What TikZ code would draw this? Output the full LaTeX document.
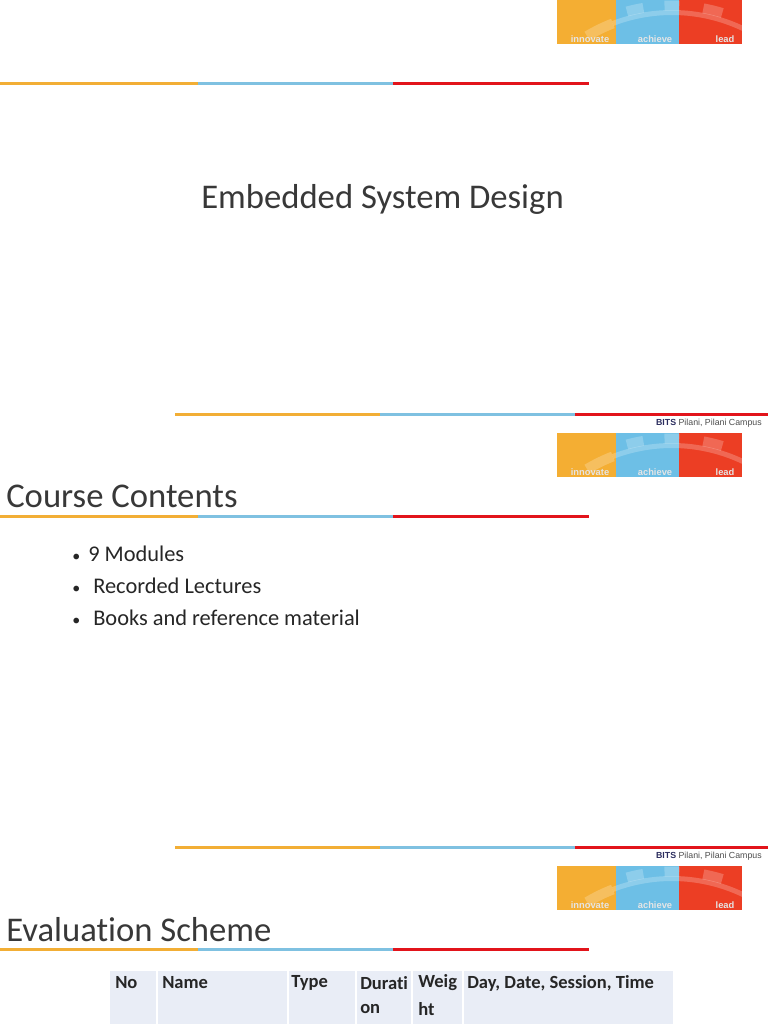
\documentclass[tikz,border=0pt]{standalone}
\usepackage{fontspec}
\setmainfont[Ligatures=NoCommon]{Carlito}
\newfontfamily\logofont{Liberation Sans}
\definecolor{bitsorange}{HTML}{F4AE33}
\definecolor{bitsblue}{HTML}{6DBFE6}
\definecolor{bitsred}{HTML}{EC3E24}
\definecolor{ruleorange}{HTML}{F2AE35}
\definecolor{ruleblue}{HTML}{7FC1E1}
\definecolor{rulered}{HTML}{E2141B}
\definecolor{cellblue}{HTML}{E9EDF6}
\definecolor{bitsnavy}{HTML}{2B2D5E}
\tikzset{
  rule/.style={line width=2.25pt},
  gearband/.style={white,opacity=0.22,line width=3.75pt},
  geartooth/.style={white,opacity=0.22,line width=7.5pt},
  logotext/.style={text=white!90!black,font=\logofont\fontsize{7}{8}\selectfont\bfseries,inner sep=0pt},
  footer/.style={anchor=east,inner sep=0pt,text=black!70,font=\logofont\fontsize{6.6}{8}\selectfont},
  heading/.style={anchor=west,inner sep=0pt,text=black!78,font=\fontsize{26}{30}\selectfont},
  bullet/.style={anchor=west,inner sep=0pt,text=black!85,font=\fontsize{16.8}{20}\selectfont},
  cell/.style={fill=cellblue},
  celltext/.style={anchor=west,inner sep=0pt,text=black!85,font=\fontsize{13.9}{16}\selectfont\bfseries}
}
\newcommand{\bulletmark}[1]{\makebox[#1][l]{\fontsize{12}{12}\selectfont•}}
\begin{document}
\begin{tikzpicture}[x=0.75pt,y=0.75pt,yscale=-1,xscale=1]
\useasboundingbox (0,0) rectangle (768,1024);

%Logos
\foreach \logoy/\n in {0/a,433/b,866/c}{
  \begin{scope}[shift={(0,\logoy)}]
    \fill[bitsorange] (557,0) rectangle (616,44);
    \fill[bitsblue] (616,0) rectangle (679,44);
    \fill[bitsred] (679,0) rectangle (742,44);
    \begin{scope}
      \clip (557,0) rectangle (742,44);
      \draw[gearband] (672,177.5) ++(249:165) arc[start angle=249,end angle=302,radius=165];
      \draw[geartooth] (672,177.5) ++(239:165) arc[start angle=239,end angle=249,radius=165];
      \draw[geartooth] (672,177.5) ++(254.8:172) arc[start angle=254.8,end angle=260.4,radius=172];
      \draw[geartooth] (672,177.5) ++(267.5:172) arc[start angle=267.5,end angle=272.5,radius=172];
      \draw[geartooth] (672,177.5) ++(280.5:172) arc[start angle=280.5,end angle=287,radius=172];
    \end{scope}
    \draw (590,39.5) node (innovate\n) [logotext] {innovate};
    \draw (655,39.5) node (achieve\n) [logotext] {achieve};
    \draw (725,39.5) node (lead\n) [logotext] {lead};
  \end{scope}
}

%Straight Lines under the logos
\foreach \ruley in {83.5,516.5,949.5}{
  \draw[rule,ruleorange] (0,\ruley) -- (198,\ruley);
  \draw[rule,ruleblue] (198,\ruley) -- (393,\ruley);
  \draw[rule,rulered] (393,\ruley) -- (589,\ruley);
}

%Straight Lines at the foot of the slides
\foreach \ruley/\n in {414/a,847/b}{
  \draw[rule,ruleorange] (175,\ruley) -- (380,\ruley);
  \draw[rule,ruleblue] (380,\ruley) -- (575,\ruley);
  \draw[rule,rulered] (575,\ruley) -- (768,\ruley);
  \draw (762,\ruley+9.5) node (footer\n) [footer] {{\color{bitsnavy}\bfseries BITS} Pilani, Pilani Campus};
}

% Text Node
\draw (201,199.5) node (title) [heading] {Embedded System Design};
% Text Node
\draw (6,496.5) node (contents) [heading] {Course Contents};
% Text Node
\draw (6,929.5) node (evaluation) [heading] {Evaluation Scheme};
% Text Node
\draw (72,553.5) node (modules) [bullet] {\bulletmark{12pt}9 Modules};
% Text Node
\draw (72,586) node (lectures) [bullet] {\bulletmark{15.75pt}Recorded Lectures};
% Text Node
\draw (72,618) node (books) [bullet] {\bulletmark{15.75pt}Books and reference material};

%Table cells
\fill[cell] (110,971) rectangle (156,1024);
\fill[cell] (158,971) rectangle (287,1024);
\fill[cell] (289,971) rectangle (355,1024);
\fill[cell] (357,971) rectangle (411,1024);
\fill[cell] (413,971) rectangle (462,1024);
\fill[cell] (464,971) rectangle (673,1024);

% Text Node
\draw (115,983) node (no) [celltext] {No};
% Text Node
\draw (162,983) node (name) [celltext] {Name};
% Text Node
\draw (291,983) node (type) [celltext] {Type};
% Text Node
\draw (360,983) node (durati) [celltext] {Durati};
% Text Node
\draw (360,1009) node (on) [celltext] {on};
% Text Node
\draw (418,983) node (weig) [celltext] {Weig};
% Text Node
\draw (418,1009) node (ht) [celltext] {ht};
% Text Node
\draw (467,983) node (day) [celltext] {Day, Date, Session, Time};

\end{tikzpicture}
\end{document}
